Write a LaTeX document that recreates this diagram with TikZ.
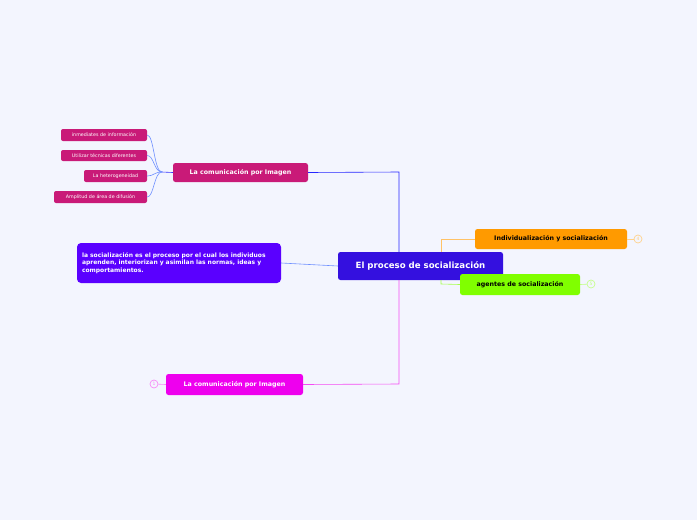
\documentclass[tikz,border=0pt]{standalone}
\usepackage{fontspec}
\setmainfont{DejaVu Sans}
\begin{document}
\begin{tikzpicture}[x=1pt,y=-1pt,
 box/.style={rounded corners=2.5pt,inner sep=0pt,font=\bfseries\fontsize{6.3}{7.5}\selectfont,text=white},
 sub/.style={box,fill=subc,font=\fontsize{4.8}{6}\selectfont,rounded corners=2pt},
 badge/.style={circle,draw=#1!45,line width=0.7pt,inner sep=0pt,minimum size=8pt,text=#1!50,font=\fontsize{4.5}{5}\selectfont},
 link/.style={line width=0.6pt}]
\definecolor{bg}{HTML}{F3F5FE}
\definecolor{ctr}{HTML}{3410DF}
\definecolor{subc}{HTML}{C91A78}
\definecolor{purp}{HTML}{5A00FF}
\definecolor{oran}{HTML}{FF9A00}
\definecolor{gren}{HTML}{80FF00}
\definecolor{mag}{HTML}{EE00EE}
\definecolor{lblue}{HTML}{6E8FFF}
\fill[bg] (0,0) rectangle (697,520);
\useasboundingbox (0,0) rectangle (697,520);
% connectors
\coordinate (j1) at (399,172);
\coordinate (j2) at (399,384);
\coordinate (jo) at (441,239);
\coordinate (jg) at (441,284);
\coordinate (fork) at (162,172);
\node[box,fill=subc,minimum width=135pt,minimum height=19pt] (a) at (240.5,172.5) {La comunicación por Imagen};
\node[box,fill=ctr,minimum width=165pt,minimum height=28pt,font=\bfseries\fontsize{8.6}{10}\selectfont] (c) at (420.5,266) {El proceso de socialización};
\node[box,fill=purp,minimum width=204pt,minimum height=40pt,rounded corners=4pt,align=left,text width=194pt,font=\bfseries\fontsize{6}{7.4}\selectfont] (p) at (179,263) {la socialización es el proceso por el cual los individuos aprenden, interiorizan y asimilan las normas, ideas y comportamientos.};
\node[box,fill=oran,text=black,minimum width=152pt,minimum height=20pt] (o) at (551,239) {Individualización y socialización};
\node[box,fill=gren,text=black,minimum width=120pt,minimum height=21pt] (g) at (520,284.5) {agentes de socialización};
\node[box,fill=mag,minimum width=137pt,minimum height=21pt] (m) at (234.5,384.5) {La comunicación por Imagen};
\node[sub,minimum width=86pt,minimum height=12pt] (s1) at (104,135) {inmediates de información};
\node[sub,minimum width=86pt,minimum height=11pt] (s2) at (104,155.5) {Utilizar técnicas diferentes};
\node[sub,minimum width=63pt,minimum height=12pt] (s3) at (115.5,176) {La heterogeneidad};
\node[sub,minimum width=93pt,minimum height=12pt] (s4) at (100.5,197) {Amplitud de área de difusión};
\node[badge=oran] (b4) at (638,239) {4};
\node[badge=gren] (b5) at (591,284) {5};
\node[badge=mag] (b1) at (154,384) {1};
\begin{scope}[on background layer/.style={}]
\end{scope}
\draw[link,draw=blue!85] (c.north -| j1) -- (j1) -- (a.east);
\draw[link,draw=lblue] (c.west) -- (p.east);
\draw[link,draw=mag!70] (c.south -| j2) -- (j2) -- (m.east);
\draw[link,draw=oran!60] (c.north -| jo) -- (jo) -- (o.west);
\draw[link,draw=gren!70] (c.south -| jg) -- (jg) -- (g.west);
\draw[link,draw=oran!45] (o.east) -- (b4);
\draw[link,draw=gren!50] (g.east) -- (b5);
\draw[link,draw=mag!45] (m.west) -- (b1);
\draw[link,draw=blue!80] (a.west) -- (fork);
\foreach \s in {s1,s2,s3,s4}
  \draw[link,draw=lblue] (fork) .. controls (154,172) and (154,0|-\s.east) .. (\s.east);
\end{tikzpicture}
\end{document}
